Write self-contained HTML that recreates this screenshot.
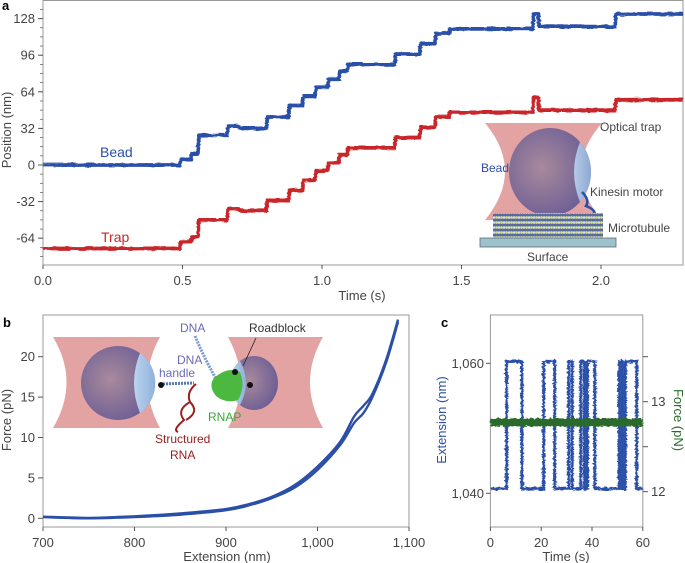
<!DOCTYPE html>
<html><head><meta charset="utf-8"><style>
html,body{margin:0;padding:0;background:#fff}
svg{display:block;font-family:"Liberation Sans",sans-serif}
</style></head><body>
<svg id="fig" width="685" height="563" viewBox="0 0 685 563" xmlns="http://www.w3.org/2000/svg">
<defs>
<radialGradient id="beadG" cx="0.4" cy="0.45" r="0.6"><stop offset="0" stop-color="#a88a9c"/><stop offset="1" stop-color="#6f5f95"/></radialGradient>
<linearGradient id="capG" x1="0" x2="1"><stop offset="0" stop-color="#bcd4ee"/><stop offset="1" stop-color="#8fb0dc"/></linearGradient>
<pattern id="mtP" width="5" height="5" patternUnits="userSpaceOnUse"><rect width="5" height="5" fill="#5a6aa0"/><circle cx="1.5" cy="2.5" r="1.4" fill="#d8e070"/><circle cx="4" cy="2.5" r="1.3" fill="#cfe0f0"/></pattern>
<filter id="jit" filterUnits="userSpaceOnUse" x="0" y="0" width="685" height="563">
<feTurbulence type="fractalNoise" baseFrequency="0.12 0.5" numOctaves="2" seed="3" result="n"/>
<feDisplacementMap in="SourceGraphic" in2="n" scale="3" xChannelSelector="R" yChannelSelector="G"/>
</filter>
<filter id="jit2" filterUnits="userSpaceOnUse" x="0" y="0" width="685" height="563">
<feTurbulence type="fractalNoise" baseFrequency="0.3 0.6" numOctaves="2" seed="5" result="n"/>
<feDisplacementMap in="SourceGraphic" in2="n" scale="4" xChannelSelector="R" yChannelSelector="G"/>
</filter>
</defs>
<g id="panelA"></g>
<g id="panelB"></g>
<g id="panelC"></g>
</svg>
<script>
// ---------- Panel a data ----------
const beadStepTimes = [0, 0.49, 0.53, 0.555, 0.66, 0.70, 0.80, 0.88, 0.93, 0.975, 1.02, 1.06, 1.09, 1.26, 1.35, 1.405, 1.455, 1.755, 1.775, 2.05];
const beadLevels = [0, 5, 10, 26, 34, 32, 42, 52, 60, 68, 75, 82, 88, 97, 106, 115, 119, 132, 121, 132];
const trapLevels = [-73, -67, -63, -48, -38, -40, -31, -22, -13, -5, 2, 9, 15, 24, 33, 42, 46, 59, 48, 57];
const aXTicks = [0, 0.5, 1.0, 1.5, 2.0];
const aXTickLabels = ["0.0", "0.5", "1.0", "1.5", "2.0"];
const aYTicks = [128, 96, 64, 32, 0, -32, -64];
// ---------- Panel b data ----------
const bExtension = [700, 750, 800, 850, 900, 925, 950, 975, 1000, 1025, 1040, 1050, 1060, 1075, 1088];
const bForceStretch = [0.2, 0.05, 0.25, 0.6, 1.15, 1.75, 2.65, 4.1, 6.4, 9.5, 12.6, 13.9, 15.4, 19.6, 24.6];
const bForceRelax = [0.15, 0.0, 0.15, 0.45, 1.0, 1.6, 2.5, 3.8, 6.0, 9.1, 11.8, 13.0, 15.0, 19.3, 24.3];
const bXTicks = [700, 800, 900, 1000, 1100];
const bXTickLabels = ["700", "800", "900", "1,000", "1,100"];
const bYTicks = [0, 5, 10, 15, 20];
// ---------- Panel c data ----------
const cHighStarts = [6.4, 21, 30.8, 35.6, 38.2, 50.7, 53.1];
const cHighEnds = [12.4, 25.3, 32.2, 37, 41.1, 51.9, 57.6];
const cLowLevel = 1040.7;
const cHighLevel = 1060.3;
const cForceLevel = 12.77;
const cXTicks = [0, 20, 40, 60];
const cYTicks = [1060, 1040];
const cYTickLabels = ["1,060", "1,040"];
const cRightTicks = [13.5, 13, 12.5, 12];

const NS = "http://www.w3.org/2000/svg";
function mk(parent, tag, attrs, text) {
  const e = document.createElementNS(NS, tag);
  for (const k in attrs) e.setAttribute(k, attrs[k]);
  if (text !== undefined) e.textContent = text;
  parent.appendChild(e);
  return e;
}
const grey = "#555", txt = "#444";

// ===== Panel a =====
const A = document.getElementById("panelA");
const ax = t => 43 + (t / 0.5) * 139.5;
const ay = v => 165 - (v / 32) * 36.6;
let e;
e = mk(A, "rect", {x: 43, y: 0.5, width: 640, height: 264.5, fill: "none", stroke: "#999", "stroke-width": 1});


aXTicks.forEach((t, i) => {
  mk(A, "line", {x1: ax(t), x2: ax(t), y1: 265, y2: 269, stroke: grey});
  e = mk(A, "text", {x: ax(t), y: 285, "text-anchor": "middle", "font-size": 13, fill: txt}, aXTickLabels[i]);
  
  
});
for (let v = -80; v <= 140; v += 8) mk(A, "line", {x1: 40, x2: 43, y1: ay(v), y2: ay(v), stroke: grey, "stroke-width": 0.7});
aYTicks.forEach(v => {
  mk(A, "line", {x1: 38, x2: 43, y1: ay(v), y2: ay(v), stroke: grey});
  e = mk(A, "text", {x: 35, y: ay(v) + 4.5, "text-anchor": "end", "font-size": 13, fill: txt}, String(v));
  
  
});
function stepPath(levels) {
  let d = "";
  for (let i = 0; i < beadStepTimes.length; i++) {
    const t0 = beadStepTimes[i], t1 = i + 1 < beadStepTimes.length ? beadStepTimes[i + 1] : 2.294;
    d += (i === 0 ? "M" : "L") + ax(t0 + (i ? 0.004 : 0)) + "," + ay(levels[i]) + "L" + ax(t1) + "," + ay(levels[i]);
  }
  return d;
}
e = mk(A, "path", {d: stepPath(trapLevels), fill: "none", stroke: "#c8282a", "stroke-width": 3.8, "stroke-linejoin": "round", filter: "url(#jit)"});


e = mk(A, "path", {d: stepPath(beadLevels), fill: "none", stroke: "#2b4fa8", "stroke-width": 3.8, "stroke-linejoin": "round", filter: "url(#jit)"});


e = mk(A, "text", {x: 100, y: 157, "font-size": 14, fill: "#2b4fa8"}, "Bead");
 
e = mk(A, "text", {x: 101, y: 242, "font-size": 14, fill: "#c8282a"}, "Trap");
 
e = mk(A, "text", {x: 2, y: 10, "font-size": 13, "font-weight": "bold", fill: "#000"}, "a");
 
e = mk(A, "text", {x: 0, y: 0, transform: "translate(11,130) rotate(-90)", "text-anchor": "middle", "font-size": 13, fill: txt}, "Position (nm)");
 
e = mk(A, "text", {x: 362, y: 300, "text-anchor": "middle", "font-size": 13, fill: txt}, "Time (s)");
 
// inset a
const IA = mk(A, "g", {});
 
mk(IA, "rect", {x: 485, y: 123, width: 117, height: 97, fill: "#fff"});
mk(IA, "path", {d: "M485,123 L602,123 Q560,171 602,220 L485,220 Q525,171 485,123Z", fill: "#e3a3a3"});
mk(IA, "ellipse", {cx: 550, cy: 172, rx: 41, ry: 44, fill: "url(#beadG)"});
mk(IA, "path", {d: "M580,142 A41,44 0 0 1 580,202 Q568,172 580,142Z", fill: "url(#capG)", opacity: 0.9});
mk(IA, "path", {d: "M582,192 Q590,200 586,206 Q596,210 594,214 Q600,218 600,224", fill: "none", stroke: "#2b4fa8", "stroke-width": 2.5});
mk(IA, "rect", {x: 493, y: 213, width: 110, height: 25, fill: "url(#mtP)"});
mk(IA, "rect", {x: 480, y: 238, width: 136, height: 9, fill: "#9cc2cc", stroke: "#667", "stroke-width": 0.8});
[["Optical trap", 600, 131, txt], ["Kinesin motor", 590, 196, txt], ["Microtubule", 608, 232, txt], ["Surface", 527, 261, txt]].forEach(a => {
  mk(IA, "text", {x: a[1], y: a[2], "font-size": 12, fill: a[3]}, a[0]);
});
mk(IA, "text", {x: 481, y: 172, "font-size": 12, fill: "#2b4fa8"}, "Bead");

// ===== Panel b =====
const B = document.getElementById("panelB");
const bx = v => 43 + (v - 700) / 100 * 91.5;
const by = f => 518.3 - f / 5 * 40.4;
e = mk(B, "rect", {x: 43, y: 315, width: 366, height: 212, fill: "none", stroke: "#999"});
 
bXTicks.forEach((v, i) => {
  mk(B, "line", {x1: bx(v), x2: bx(v), y1: 527, y2: 531, stroke: grey});
  e = mk(B, "text", {x: bx(v), y: 547, "text-anchor": "middle", "font-size": 13, fill: txt}, bXTickLabels[i]);
   
});
bYTicks.forEach(v => {
  mk(B, "line", {x1: 38, x2: 43, y1: by(v), y2: by(v), stroke: grey});
  e = mk(B, "text", {x: 35, y: by(v) + 4.5, "text-anchor": "end", "font-size": 13, fill: txt}, String(v));
   
});
function smooth(xs, ys) {
  const p = xs.map((x, i) => [bx(x), by(ys[i])]);
  let d = "M" + p[0];
  for (let i = 0; i < p.length - 1; i++) {
    const p0 = p[Math.max(0, i - 1)], p1 = p[i], p2 = p[i + 1], p3 = p[Math.min(p.length - 1, i + 2)];
    const c1 = [p1[0] + (p2[0] - p0[0]) / 6, p1[1] + (p2[1] - p0[1]) / 6];
    const c2 = [p2[0] - (p3[0] - p1[0]) / 6, p2[1] - (p3[1] - p1[1]) / 6];
    d += "C" + c1 + " " + c2 + " " + p2;
  }
  return d;
}
e = mk(B, "path", {d: smooth(bExtension, bForceStretch), fill: "none", stroke: "#2b4fa8", "stroke-width": 2.4});
 
e = mk(B, "path", {d: smooth(bExtension, bForceRelax), fill: "none", stroke: "#2b4fa8", "stroke-width": 2.4});
 
e = mk(B, "text", {x: 3, y: 327, "font-size": 13, "font-weight": "bold", fill: "#000"}, "b");
 
e = mk(B, "text", {x: 0, y: 0, transform: "translate(11,420) rotate(-90)", "text-anchor": "middle", "font-size": 13, fill: txt}, "Force (pN)");
 
e = mk(B, "text", {x: 227, y: 561, "text-anchor": "middle", "font-size": 13, fill: txt}, "Extension (nm)");
 
// inset b
const IB = mk(B, "g", {});
 
mk(IB, "path", {d: "M53,337 L160,337 Q135,382 160,428 L53,428 Q80,382 53,337Z", fill: "#e3a3a3"});
mk(IB, "path", {d: "M228,337 L323,337 Q297,382 323,428 L228,428 Q253,382 228,337Z", fill: "#e3a3a3"});
mk(IB, "circle", {cx: 118, cy: 383, r: 37, fill: "url(#beadG)"});
mk(IB, "path", {d: "M140,353 A37,37 0 0 1 140,413 Q128,383 140,353Z", fill: "url(#capG)"});
mk(IB, "ellipse", {cx: 254, cy: 383, rx: 24, ry: 27, fill: "url(#beadG)"});
mk(IB, "path", {d: "M240,361 A24,27 0 0 0 240,405 Q252,383 240,361Z", fill: "url(#capG)"});
mk(IB, "path", {d: "M160,384 L194,383", stroke: "#5a78b0", "stroke-width": 3, "stroke-dasharray": "2 1"});
mk(IB, "path", {d: "M195,336 Q205,360 218,382", fill: "none", stroke: "#7a9ac8", "stroke-width": 3, "stroke-dasharray": "2 1"});
mk(IB, "path", {d: "M214,378 Q228,366 240,372 Q246,386 238,400 Q226,404 216,396 Q208,386 214,378Z", fill: "#4cb840"});
mk(IB, "path", {d: "M196,384 Q186,392 190,402 Q176,410 184,420 Q172,430 178,432 M190,402 Q200,412 186,420", fill: "none", stroke: "#9a2020", "stroke-width": 2});
mk(IB, "circle", {cx: 161, cy: 385, r: 3, fill: "#111"});
mk(IB, "circle", {cx: 235, cy: 372, r: 3, fill: "#111"});
mk(IB, "circle", {cx: 250, cy: 385, r: 3, fill: "#111"});
mk(IB, "line", {x1: 256, y1: 338, x2: 243, y2: 366, stroke: "#222", "stroke-width": 0.8});
[["DNA", 180, 332, "#6a6ab8", "start"], ["DNA", 177, 364, "#6a6ab8", "start"], ["handle", 159, 377, "#6a6ab8", "start"],
 ["Roadblock", 249, 332, "#333", "start"], ["RNAP", 208, 421, "#3aa838", "start"],
 ["Structured", 155, 443, "#9a2020", "start"], ["RNA", 170, 459, "#9a2020", "start"]].forEach(a => {
  mk(IB, "text", {x: a[1], y: a[2], "font-size": 12, fill: a[3], "text-anchor": a[4]}, a[0]);
});

// ===== Panel c =====
const C = document.getElementById("panelC");
const cx = t => 490.4 + t / 60 * 152.4;
const cy = v => 493.3 - (v - 1040) / 20 * 130;
const cf = f => 491.7 - (f - 12) * 90;
e = mk(C, "rect", {x: 490.4, y: 315, width: 152.4, height: 212, fill: "none", stroke: "#999"});
 
cXTicks.forEach(v => {
  mk(C, "line", {x1: cx(v), x2: cx(v), y1: 527, y2: 531, stroke: grey});
  e = mk(C, "text", {x: cx(v), y: 547, "text-anchor": "middle", "font-size": 13, fill: txt}, String(v));
   
});
cYTicks.forEach((v, i) => {
  mk(C, "line", {x1: 486, x2: 490.4, y1: cy(v), y2: cy(v), stroke: grey});
  e = mk(C, "text", {x: 484, y: cy(v) + 4.5, "text-anchor": "end", "font-size": 13, fill: txt}, cYTickLabels[i]);
   
});
cRightTicks.forEach(v => {
  mk(C, "line", {x1: 642.8, x2: 648, y1: cf(v), y2: cf(v), stroke: grey});
  if (v % 1 === 0) {
    e = mk(C, "text", {x: 651, y: cf(v) + 4.5, "font-size": 13, fill: txt}, String(v));
     
  }
});
let dc = "M" + cx(0) + "," + cy(cLowLevel);
cHighStarts.forEach((s, i) => {
  dc += "L" + cx(s) + "," + cy(cLowLevel) + "L" + cx(s) + "," + cy(cHighLevel) + "L" + cx(cHighEnds[i]) + "," + cy(cHighLevel) + "L" + cx(cHighEnds[i]) + "," + cy(cLowLevel);
});
dc += "L" + cx(60) + "," + cy(cLowLevel);
e = mk(C, "path", {d: dc, fill: "none", stroke: "#2b4fa8", "stroke-width": 3, "stroke-linejoin": "round", filter: "url(#jit2)"});
 
e = mk(C, "rect", {x: cx(0), width: cx(60) - cx(0), y: cf(cForceLevel) - 4, height: 8, fill: "#2a6a2a", filter: "url(#jit2)"});
 
e = mk(C, "text", {x: 441, y: 327, "font-size": 13, "font-weight": "bold", fill: "#000"}, "c");
 
e = mk(C, "text", {x: 0, y: 0, transform: "translate(446,420) rotate(-90)", "text-anchor": "middle", "font-size": 13, fill: "#2b4fa8"}, "Extension (nm)");
 
e = mk(C, "text", {x: 0, y: 0, transform: "translate(674,420) rotate(90)", "text-anchor": "middle", "font-size": 13, fill: "#2a6a2a"}, "Force (pN)");
 
e = mk(C, "text", {x: 566, y: 561, "text-anchor": "middle", "font-size": 13, fill: txt}, "Time (s)");
 
</script>
</body></html>
